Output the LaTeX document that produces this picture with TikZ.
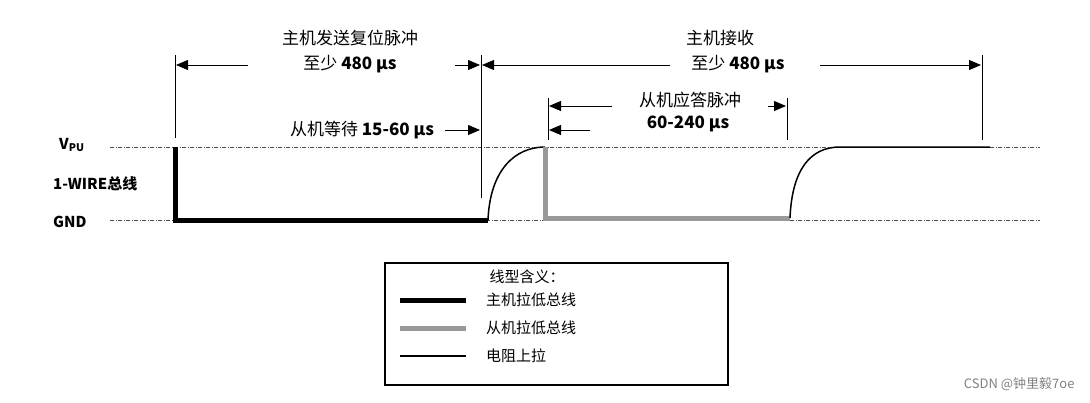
\documentclass[tikz,border=0pt]{standalone}
\usepackage{fontspec}
\setmainfont{Noto Sans CJK SC}
\usetikzlibrary{arrows.meta}
\begin{document}
\begin{tikzpicture}[x=1pt,y=-1pt,
  guide/.style={dash pattern=on 4pt off 1.5pt on 1pt off 1.5pt,line width=0.5pt,black!70},
  vline/.style={line width=0.7pt},
  dim/.style={line width=0.8pt,-{Triangle[length=12pt,width=10pt]}},
  lbl/.style={font=\fontsize{17}{18}\selectfont,inner sep=1pt},
  side/.style={font=\fontsize{15}{16}\selectfont\bfseries,inner sep=1pt},
  leglbl/.style={font=\fontsize{15}{16}\selectfont,inner sep=1pt},
  master/.style={line width=5pt},
  slave/.style={line width=5pt,gray!80},
  pullup/.style={line width=1.5pt}]
\useasboundingbox (0,0) rectangle (1090,402);
\draw[guide] (110,147) -- (1040,147);
\draw[guide] (110,220) -- (1040,220);
\node[side,anchor=west] (vpu) at (58,145) {V\textsubscript{PU}};
\node[side,anchor=west] (bus) at (52,184) {1-WIRE总线};
\node[side,anchor=west] (gnd) at (52,222) {GND};
\coordinate (a0) at (175,147); \coordinate (a1) at (175,220); \coordinate (a2) at (488,220);
\coordinate (b0) at (545,147); \coordinate (b1) at (545,218); \coordinate (b2) at (790,218);
\coordinate (c0) at (840,147); \coordinate (c1) at (990,147);
\draw[master,line join=miter] (a0) -- (a1) -- (a2);
\draw[pullup] (a2) .. controls (490,170) and (515,147) .. (b0);
\draw[slave,line join=miter] (b0) -- (b1) -- (b2);
\draw[pullup] (b2) .. controls (792,170) and (810,147) .. (c0) -- (c1);
\coordinate (v1t) at (175,55); \coordinate (v1b) at (175,138);
\coordinate (v2t) at (481,55); \coordinate (v2b) at (481,198);
\coordinate (v3t) at (548,98); \coordinate (v3b) at (548,140);
\coordinate (v4t) at (787,98); \coordinate (v4b) at (787,140);
\coordinate (v5t) at (982,55); \coordinate (v5b) at (982,140);
\foreach \p in {1,...,5} \draw[vline] (v\p t) -- (v\p b);
\node[lbl] (t1) at (350,38) {主机发送复位脉冲};
\node[lbl] (t1b) at (350,64) {至少 \textbf{480 µs}};
\draw[dim] (248,65) -- (176,65);
\draw[dim] (455,65) -- (480,65);
\node[lbl] (t2) at (720,38) {主机接收};
\node[lbl] (t2b) at (738,64) {至少 \textbf{480 µs}};
\draw[dim] (670,65) -- (482,65);
\draw[dim] (820,65) -- (981,65);
\node[lbl] (w) at (362,130) {从机等待 \textbf{15-60 µs}};
\draw[dim] (445,130) -- (480,130);
\node[lbl] (s1) at (690,100) {从机应答脉冲};
\node[lbl] (s2) at (688,124) {\textbf{60-240 µs}};
\draw[dim] (612,106) -- (549,106);
\draw[dim] (768,106) -- (786,106);
\draw[dim] (590,130) -- (549,130);
\node[draw,line width=2pt,minimum width=343pt,minimum height=122pt,anchor=north west,inner sep=0] (leg) at (384,262) {};
\node[leglbl] (lt) at (527,277) {线型含义：};
\draw[master] (400,300) -- (466,300);
\node[leglbl,anchor=west] (l1) at (485,300) {主机拉低总线};
\draw[slave] (400,328) -- (466,328);
\node[leglbl,anchor=west] (l2) at (485,328) {从机拉低总线};
\draw[line width=1.5pt] (400,356) -- (466,356);
\node[leglbl,anchor=west] (l3) at (485,356) {电阻上拉};
\node[anchor=east,text=gray,font=\fontsize{13}{14}\selectfont] (csdn) at (1078,384) {CSDN @钟里毅7oe};
\end{tikzpicture}
\end{document}
